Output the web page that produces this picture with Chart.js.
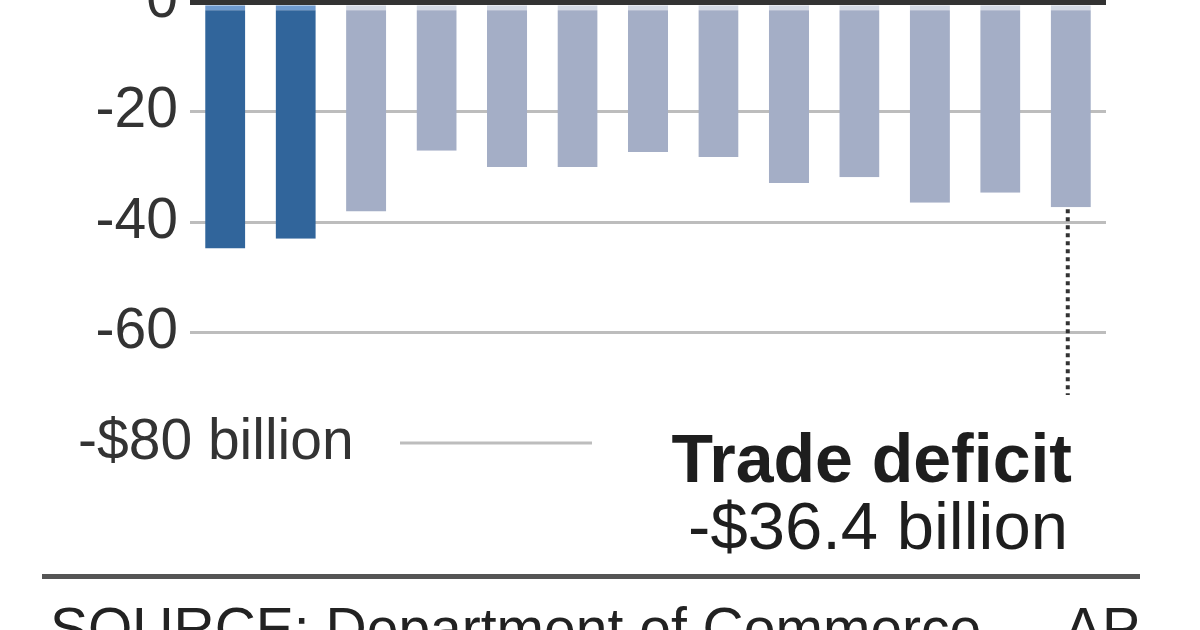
<!DOCTYPE html>
<html>
<head>
<meta charset="utf-8">
<script src="https://cdn.jsdelivr.net/npm/chart.js@4.4.1/dist/chart.umd.min.js"></script>
<style>
    html, body { margin: 0; padding: 0; background: #fff; overflow: hidden; }
    body { width: 1200px; height: 630px; position: relative; }
    #wrap { position: absolute; left: 0; top: -45px; width: 1200px; height: 675px; }
</style>
</head>
<body>
<div id="wrap"><canvas id="chart" width="1200" height="675"></canvas></div>
<script>
// Data: monthly trade balance, billions of dollars (Nov 2008 - Nov 2009)
const months = ['Nov 08', 'Dec 08', 'Jan 09', 'Feb 09', 'Mar 09', 'Apr 09', 'May 09',
    'Jun 09', 'Jul 09', 'Aug 09', 'Sep 09', 'Oct 09', 'Nov 09'];
const balance = [-44.8, -43.0, -38.1, -27.1, -30.0, -30.0, -27.3, -28.2, -32.9, -31.9, -36.5, -34.7, -37.3];
const yTicks = [0, -20, -40, -60, -80];
const highlightCount = 2; // 2008 bars in dark blue

// Canvas sits above the page top so the zero line lands on the top edge
const OFF = 45;
const FONT = "'Liberation Sans', Arial, Helvetica, sans-serif";

const darkBar = '#31659b';
const lightBar = '#a4aec6';

const annotations = {
    id: 'annotations',
    afterDraw(chart) {
        const ctx = chart.ctx;
        const x = chart.scales.x;
        const y = chart.scales.y;
        ctx.save();

        // short -80 gridline between the labels
        const y80 = y.getPixelForValue(-80);
        ctx.strokeStyle = '#bdbdbd';
        ctx.lineWidth = 3;
        ctx.beginPath();
        ctx.moveTo(400, y80);
        ctx.lineTo(592, y80);
        ctx.stroke();

        // -$80 billion label
        ctx.fillStyle = '#333';
        ctx.font = '57px ' + FONT;
        ctx.textAlign = 'left';
        ctx.textBaseline = 'middle';
        ctx.fillText('-$80 billion', 78, y80);

        // dotted leader from the latest bar
        const last = balance.length - 1;
        const lx = x.getPixelForValue(last) - 3;
        ctx.strokeStyle = '#333';
        ctx.lineWidth = 4;
        ctx.setLineDash([4, 4]);
        ctx.beginPath();
        ctx.moveTo(lx, y.getPixelForValue(balance[last]) + 2);
        ctx.lineTo(lx, y.getPixelForValue(-71.3));
        ctx.stroke();
        ctx.setLineDash([]);

        // annotation text
        ctx.textAlign = 'right';
        ctx.textBaseline = 'alphabetic';
        ctx.fillStyle = '#1e1e1e';
        ctx.font = 'bold 68px ' + FONT;
        ctx.fillText('Trade deficit', 1072, 482 + OFF);
        ctx.font = '67px ' + FONT;
        ctx.fillText('-$36.4 billion', 1068, 549 + OFF);

        // rule and source line
        ctx.fillStyle = '#555';
        ctx.fillRect(42, 574 + OFF, 1098, 5);
        ctx.fillStyle = '#222';
        ctx.font = '57px ' + FONT;
        ctx.textAlign = 'left';
        ctx.fillText('SOURCE: Department of Commerce', 50, 648 + OFF);
        ctx.textAlign = 'right';
        ctx.fillText('AP', 1140, 648 + OFF);
        ctx.restore();
    }
};

new Chart(document.getElementById('chart'), {
    type: 'bar',
    data: {
        labels: months,
        datasets: [{
            data: balance,
            backgroundColor: balance.map((v, i) => i < highlightCount ? darkBar : lightBar),
            borderColor: balance.map((v, i) => i < highlightCount ? '#6f9bd0' : '#d3d9e5'),
            borderWidth: { top: 5, bottom: 0, left: 0, right: 0 },
            borderSkipped: false,
            barPercentage: 0.57,
            categoryPercentage: 1.0
        }]
    },
    options: {
        responsive: false,
        animation: false,
        devicePixelRatio: 1,
        layout: { padding: { top: 10, bottom: 187, left: 0, right: 94 } },
        plugins: {
            legend: { display: false },
            tooltip: { enabled: false }
        },
        scales: {
            x: { display: false },
            y: {
                min: -80,
                max: 0,
                afterBuildTicks: scale => {
                    scale.ticks = yTicks.map(v => ({ value: v }));
                },
                afterFit: scale => { scale.width = 190; },
                border: { display: false },
                grid: {
                    drawTicks: false,
                    color: c => c.tick.value === 0 ? '#333' : (c.tick.value === -80 ? 'rgba(0,0,0,0)' : '#bdbdbd'),
                    lineWidth: c => c.tick.value === 0 ? 8 : 3
                },
                ticks: {
                    padding: 12,
                    color: '#333',
                    font: { family: FONT, size: 57 },
                    callback: v => v === -80 ? '' : String(v)
                }
            }
        }
    },
    plugins: [annotations]
});
</script>
</body>
</html>
